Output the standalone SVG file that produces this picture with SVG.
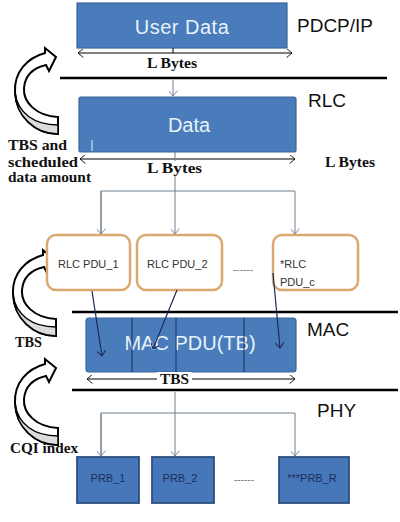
<svg xmlns="http://www.w3.org/2000/svg" width="400" height="522" viewBox="0 0 400 522">
<style>
.blk{fill:#4a7cbc;stroke:#3a6599;stroke-width:1.2}
.prb{fill:#4677b8;stroke:#2d4f80;stroke-width:1.8}
.rlc{fill:#fff;stroke:#dba970;stroke-width:2.5}
.big{font-family:"Liberation Sans",Arial,sans-serif;font-size:20px;fill:#e6f3f8;text-anchor:middle}
.lay{font-family:"Liberation Sans",Arial,sans-serif;font-size:19px;fill:#111}
.ser{font-family:"Liberation Serif","Times New Roman",serif;font-size:14px;font-weight:bold;fill:#111}
.sm{font-family:"Liberation Sans",Arial,sans-serif;font-size:11px;fill:#333}
.smb{font-family:"Liberation Sans",Arial,sans-serif;font-size:11px;fill:#1f2d5c;text-anchor:middle}
.dash{font-family:"Liberation Sans",Arial,sans-serif;font-size:10px;fill:#777}
.sep{stroke:#000;stroke-width:2.5}
.dim{stroke:#000;stroke-width:1;fill:none}
.gry{stroke:#6e7f8f;stroke-width:1;fill:none}
.nav{stroke:#1a2a5a;stroke-width:1.2;fill:none}
</style>
<defs>
<marker id="ak" viewBox="0 0 6 10" refX="6" refY="5" markerWidth="6" markerHeight="9" orient="auto-start-reverse" markerUnits="userSpaceOnUse"><path d="M0,0 L6,5 L0,10" fill="none" stroke="#000" stroke-width="1"/></marker>
<marker id="ag" viewBox="0 0 6 10" refX="6" refY="5" markerWidth="6" markerHeight="9" orient="auto" markerUnits="userSpaceOnUse"><path d="M0,0 L6,5 L0,10" fill="none" stroke="#6e7f8f" stroke-width="1"/></marker>
<marker id="an" viewBox="0 0 6 10" refX="6" refY="5" markerWidth="7" markerHeight="9" orient="auto" markerUnits="userSpaceOnUse"><path d="M0,0 L6,5 L0,10" fill="none" stroke="#1a2a5a" stroke-width="1.2"/></marker>
<g id="curl">
<path d="M58,117 C36,116 23,102 24,88 C25,76 33,68 46,65 L49,71 L56,57 L45,48 L45,53 C27,58 14,72 15,92 C16,116 35,134 58,134 Z" fill="#fff" stroke="#000" stroke-width="2"/>
<path d="M15,93 C18,113 34,125 58,125 L58,134 C35,134 16,116 15,93 Z" fill="#dcdcdc" stroke="#000" stroke-width="1.5"/>
</g>
</defs>
<rect width="400" height="522" fill="#fff"/>

<!-- separators -->
<line class="sep" x1="60" y1="78" x2="387" y2="78"/>
<line class="sep" x1="72" y1="312" x2="398" y2="312"/>
<line class="sep" x1="72" y1="390" x2="398" y2="390"/>

<!-- layer labels -->
<text class="lay" x="297" y="32" font-size="18.5">PDCP/IP</text>
<text class="lay" x="308" y="107" font-size="18">RLC</text>
<text class="lay" x="307" y="336" font-size="20">MAC</text>
<text class="lay" x="317" y="417" font-size="19.5">PHY</text>

<!-- curved arrows -->
<use href="#curl"/>
<use href="#curl" transform="translate(-2,202)"/>
<use href="#curl" transform="translate(0,311)"/>
<text class="ser" x="8" y="150" textLength="59" lengthAdjust="spacingAndGlyphs">TBS and</text>
<text class="ser" x="8" y="167" textLength="70" lengthAdjust="spacingAndGlyphs">scheduled</text>
<text class="ser" x="8" y="182" textLength="83" lengthAdjust="spacingAndGlyphs">data amount</text>
<text class="ser" x="15" y="347" textLength="27" lengthAdjust="spacingAndGlyphs">TBS</text>
<text class="ser" x="10" y="453" textLength="68" lengthAdjust="spacingAndGlyphs">CQI index</text>

<g id="user-data">
<rect class="blk" x="77" y="3" width="210" height="45"/>
<text class="big" x="182" y="34" letter-spacing="0.5">User Data</text>
</g>

<g id="data">
<rect class="blk" x="79" y="97" width="217" height="55" rx="2"/>
<line x1="92" y1="140" x2="92" y2="151" stroke="#e6f3f8" stroke-width="1"/>
<text class="big" x="189" y="132">Data</text>
</g>

<g id="rlc-pdu-1">
<rect class="rlc" x="47" y="235" width="83" height="55" rx="9"/>
<text class="sm" x="58" y="268">RLC PDU_1</text>
</g>
<g id="rlc-pdu-2">
<rect class="rlc" x="137" y="235" width="85" height="55" rx="9"/>
<text class="sm" x="147" y="268">RLC PDU_2</text>
</g>
<text class="dash" x="233" y="273">------</text>
<g id="rlc-pdu-c">
<rect class="rlc" x="273" y="235" width="85" height="55" rx="9"/>
<text class="sm" x="280" y="268">*RLC</text>
<text class="sm" x="280" y="286">PDU_c</text>
</g>

<g id="mac-pdu">
<rect class="blk" x="86" y="318" width="210" height="54" rx="3"/>
<text class="big" x="190" y="350">MAC PDU(TB)</text>
<line x1="132" y1="318" x2="132" y2="372" stroke="#1a2a5a" stroke-width="1"/>
<line x1="176" y1="318" x2="176" y2="372" stroke="#1a2a5a" stroke-width="1"/>
<line x1="244" y1="318" x2="244" y2="372" stroke="#1a2a5a" stroke-width="1"/>
</g>

<g id="prb-1">
<rect class="prb" x="77" y="457" width="62" height="46"/>
<text class="smb" x="108" y="482">PRB_1</text>
</g>
<g id="prb-2">
<rect class="prb" x="152" y="457" width="62" height="46"/>
<text class="smb" x="180" y="482">PRB_2</text>
</g>
<text class="dash" x="234" y="483">------</text>
<g id="prb-r">
<rect class="prb" x="279" y="457" width="70" height="46"/>
<text class="smb" x="312" y="482">***PRB_R</text>
</g>

<g id="connectors">
<line class="dim" x1="78" y1="53" x2="292" y2="53" marker-start="url(#ak)" marker-end="url(#ak)"/>
<line class="dim" x1="173" y1="48" x2="173" y2="53"/>
<line class="gry" x1="173" y1="80" x2="173" y2="96" marker-end="url(#ag)"/>
<line class="dim" x1="80" y1="159" x2="295" y2="159" marker-start="url(#ak)" marker-end="url(#ak)"/>
<line class="gry" x1="175" y1="152" x2="175" y2="234" marker-end="url(#ag)"/>
<polyline class="gry" points="101,234 101,191 295,191 295,234" marker-end="url(#ag)"/>
<line class="gry" x1="101" y1="191" x2="101" y2="234" marker-end="url(#ag)"/>
<line class="nav" x1="92" y1="291" x2="102" y2="356" marker-end="url(#an)"/>
<line class="nav" x1="177" y1="290" x2="153" y2="349" marker-end="url(#an)"/>
<line class="nav" x1="273" y1="273" x2="280" y2="348" marker-end="url(#an)"/>
<line class="dim" x1="87" y1="379" x2="295" y2="379" marker-start="url(#ak)" marker-end="url(#ak)"/>
<line class="gry" x1="175" y1="392" x2="175" y2="456" marker-end="url(#ag)"/>
<polyline class="gry" points="101,456 101,413 295,413 295,456" marker-end="url(#ag)"/>
<line class="gry" x1="101" y1="413" x2="101" y2="456" marker-end="url(#ag)"/>
</g>

<g id="lbytes-labels">
<rect x="146" y="161" width="58" height="14" fill="#fff"/>
<text class="ser" x="147" y="68" textLength="50" lengthAdjust="spacingAndGlyphs">L Bytes</text>
<text class="ser" x="147" y="173" textLength="55" lengthAdjust="spacingAndGlyphs">L Bytes</text>
<text class="ser" x="325" y="167" textLength="50" lengthAdjust="spacingAndGlyphs">L Bytes</text>
<rect x="157" y="372" width="35" height="14" fill="#fff"/>
<text class="ser" x="160" y="384" textLength="29" lengthAdjust="spacingAndGlyphs">TBS</text>
</g>
</svg>
